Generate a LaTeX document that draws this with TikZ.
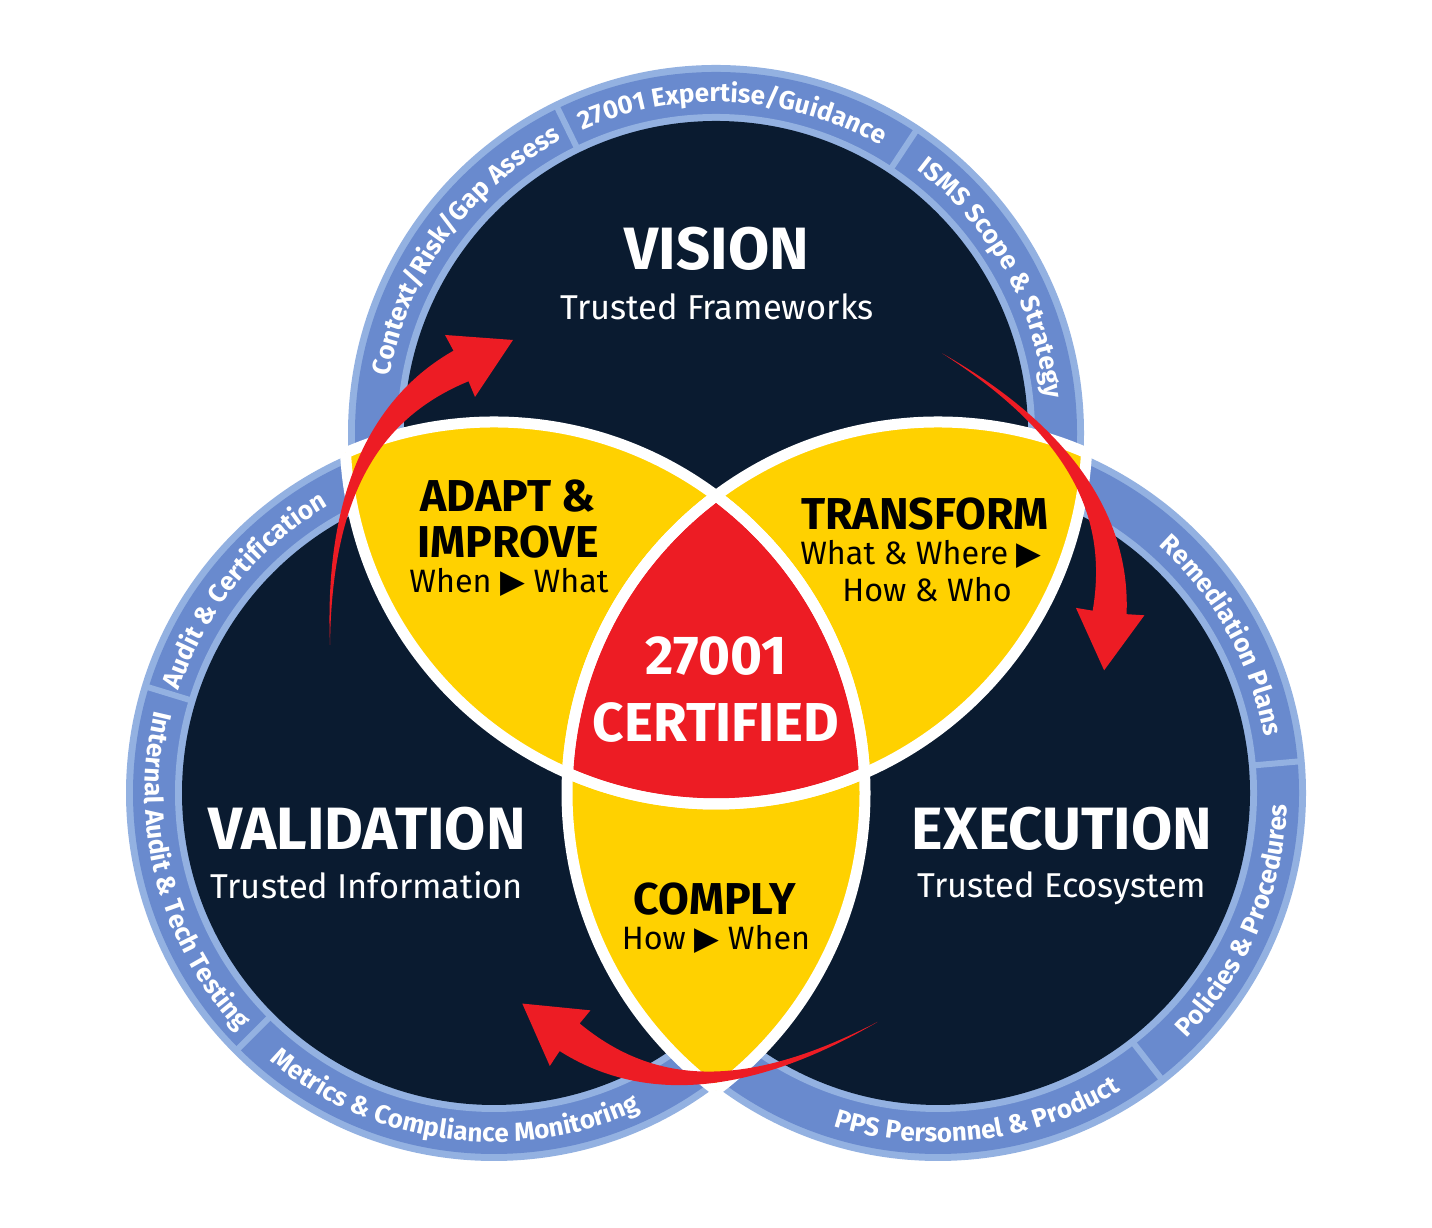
\documentclass[tikz,border=0pt]{standalone}
\usepackage{fontspec}
\setmainfont{Fira Sans}
\newfontfamily\symfont{DejaVu Sans}
\usepackage{tikz}
\usetikzlibrary{decorations.text}

\definecolor{navy}{RGB}{10,27,48}
\definecolor{ringblue}{RGB}{105,138,206}
\definecolor{ringlight}{RGB}{147,177,225}
\definecolor{lensyellow}{RGB}{255,209,0}
\definecolor{certred}{RGB}{237,28,36}

\newcommand{\ringfont}{\fontsize{7.4}{9}\selectfont\bfseries}
\newcommand{\playsym}{{\symfont ▶}}

\begin{document}
\begin{tikzpicture}
		[
			venn/.style = {line width=1.1mm, draw=white},
			ringsep/.style = {line width=0.6mm, draw=ringlight},
			ringtext/.style = {decorate, decoration={text along path, text align=center, text color=white, text={|\ringfont|#1}}},
			titlenode/.style = {anchor=base, inner sep=0pt, text=white, font=\fontsize{17}{20}\selectfont\bfseries},
			subnode/.style = {anchor=base, inner sep=0pt, text=white, font=\fontsize{9.8}{12}\selectfont},
			lensnode/.style = {anchor=base, inner sep=0pt, text=black, font=\fontsize{12.7}{14}\selectfont\bfseries},
			lenssubnode/.style = {anchor=base, inner sep=0pt, text=black, font=\fontsize{9.2}{11}\selectfont},
			certnode/.style = {anchor=base, inner sep=0pt, text=white, font=\fontsize{15.6}{18}\selectfont\bfseries},
		]
		\useasboundingbox (0,0) rectangle (14.32,12.28);

		% circle centres
		\coordinate (T) at ( 7.16, 7.95 );
		\coordinate (L) at ( 4.94, 4.35 );
		\coordinate (R) at ( 9.38, 4.35 );
		\coordinate (C) at ( 7.17, 5.59 );

		% rings
		\foreach \c in {T,L,R} {
			\fill[ringlight] (\c) circle (3.68);
			\fill[ringblue] (\c) circle (3.61);
			\fill[ringlight] (\c) circle (3.19);
			\fill[navy] (\c) circle (3.12);
		}
		\foreach \c/\a in {T/116,T/56.5,L/163,L/225,R/5,R/-52}
		\draw[ringsep] ([shift={(\a:3.14)}]\c) -- ([shift={(\a:3.66)}]\c);

		% ring labels
		\path[ringtext={Context/Risk/Gap Assess}] ([shift={(189:3.31)}]T) arc[start angle=189, end angle=99, radius=3.31];
		\path[ringtext={27001 Expertise/Guidance}] ([shift={(132:3.31)}]T) arc[start angle=132, end angle=42, radius=3.31];
		\path[ringtext={ISMS Scope {\&} Strategy}] ([shift={(74.3:3.31)}]T) arc[start angle=74.3, end angle=-15.7, radius=3.31];
		\path[ringtext={Audit {\&} Certification}] ([shift={(186:3.31)}]L) arc[start angle=186, end angle=96, radius=3.31];
		\path[ringtext={Internal Audit {\&} Tech Testing}] ([shift={(149.7:3.49)}]L) arc[start angle=149.7, end angle=239.7, radius=3.49];
		\path[ringtext={Metrics {\&} Compliance Monitoring}] ([shift={(217.4:3.49)}]L) arc[start angle=217.4, end angle=307.4, radius=3.49];
		\path[ringtext={Remediation Plans}] ([shift={(74:3.31)}]R) arc[start angle=74, end angle=-16, radius=3.31];
		\path[ringtext={Policies {\&} Procedures}] ([shift={(-68.3:3.49)}]R) arc[start angle=-68.3, end angle=21.7, radius=3.49];
		\path[ringtext={PPS Personnel {\&} Product}] ([shift={(-127.9:3.49)}]R) arc[start angle=-127.9, end angle=-37.9, radius=3.49];

		% overlaps
		\begin{scope}
			\clip (T) circle (3.71);
			\fill[lensyellow] (L) circle (3.71);
			\fill[lensyellow] (R) circle (3.71);
		\end{scope}
		\begin{scope}
			\clip (L) circle (3.71);
			\fill[lensyellow] (R) circle (3.71);
		\end{scope}
		\begin{scope}
			\clip (T) circle (3.71);
			\clip (L) circle (3.71);
			\fill[certred] (R) circle (3.71);
		\end{scope}
		\foreach \a/\b in {T/L,T/R,L/T,L/R,R/T,R/L} {
			\begin{scope}
				\clip (\b) circle (3.71);
				\draw[venn] (\a) circle (3.71);
			\end{scope}
		}

		% cycle arrows
		\foreach \ang in {0,-122,-242} {
			\begin{scope}[shift={(C)}, rotate=\ang]
				\fill[certred] (-3.87,0.24) .. controls (-3.93,1.75) and (-3.468,2.709) .. (-2.635,3.183)
					-- (-2.72,3.34) -- (-2.04,3.29) -- (-2.42,2.72) -- (-2.485,2.877)
					.. controls (-3.372,2.511) and (-3.85,1.75) .. cycle;
			\end{scope}
		}

		% texts
		\node[titlenode] (vision) 	at ( 7.17, 9.58 ) {VISION};
		\node[subnode] (visionsub) 	at ( 7.17, 9.08 ) {Trusted Frameworks};
		\node[titlenode] (validation) 	at ( 3.67, 3.78 ) {VALIDATION};
		\node[subnode] (validationsub) 	at ( 3.67, 3.29 ) {Trusted Information};
		\node[titlenode] (execution) 	at ( 10.62, 3.78 ) {EXECUTION};
		\node[subnode] (executionsub) 	at ( 10.62, 3.30 ) {Trusted Ecosystem};

		\node[lensnode] (adapt) 	at ( 5.08, 7.16 ) {ADAPT \&};
		\node[lensnode] (improve) 	at ( 5.08, 6.70 ) {IMPROVE};
		\node[lenssubnode] (adaptsub) 	at ( 5.09, 6.35 ) {When \playsym{} What};
		\node[lensnode] (transform) 	at ( 9.25, 6.98 ) {TRANSFORM};
		\node[lenssubnode] (transformsub) 	at ( 9.21, 6.63 ) {What \& Where \playsym};
		\node[lenssubnode] (transformsubb) 	at ( 9.27, 6.26 ) {How \& Who};
		\node[lensnode] (comply) 	at ( 7.15, 3.13 ) {COMPLY};
		\node[lenssubnode] (complysub) 	at ( 7.16, 2.78 ) {How \playsym{} When};

		\node[certnode] (cert) 	at ( 7.16, 5.53 ) {27001};
		\node[certnode] (certb) 	at ( 7.16, 4.86 ) {CERTIFIED};

		\end{tikzpicture}
\end{document}
